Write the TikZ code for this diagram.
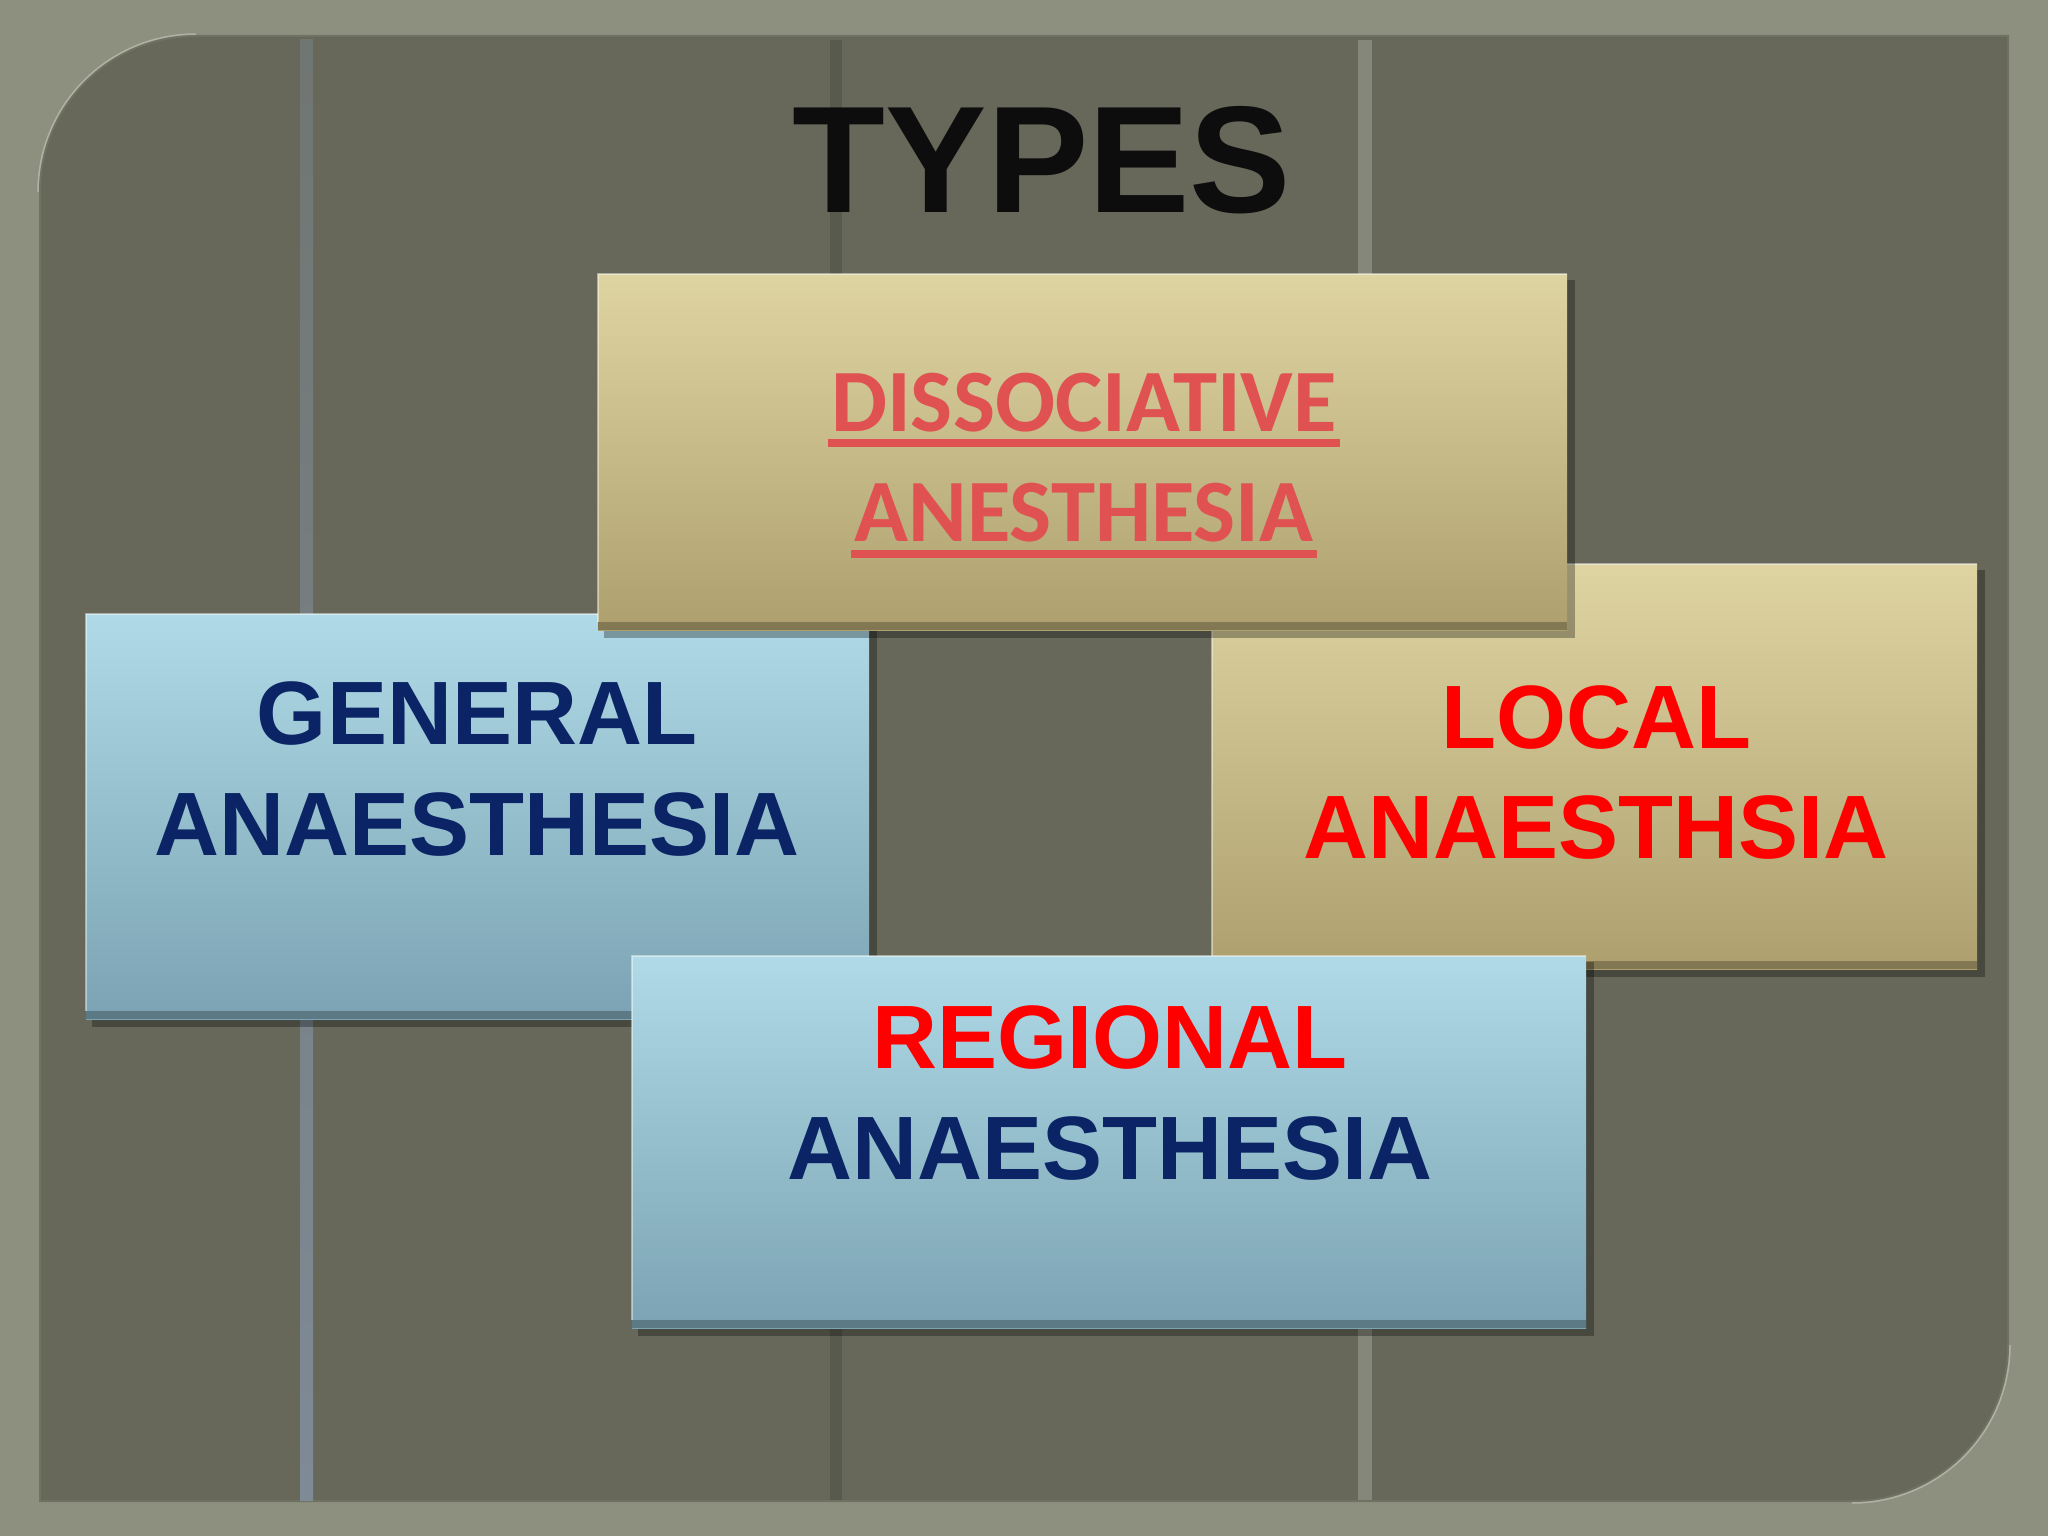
\documentclass[tikz,border=0pt]{standalone}
\usepackage{fontspec}
\setmainfont{Liberation Sans}
\newfontfamily\calib{Carlito}
\begin{document}
\begin{tikzpicture}[x=1pt,y=-1pt,
  lbl/.style={inner sep=0pt,anchor=base,font=\fontsize{90}{90}\selectfont\bfseries},
  dlbl/.style={inner sep=0pt,anchor=base,font=\calib\fontsize{89}{89}\selectfont\bfseries,text=dred},
  tanbox/.style={top color=tanT,bottom color=tanB},
  bluebox/.style={top color=bluT,bottom color=bluB},
  boxshadow/.style={fill=black,opacity=0.3},
  edgehi/.style={white,opacity=0.45,line width=1.5pt},
  uline/.style={fill=dred}]
\definecolor{outer}{HTML}{8D907E}
\definecolor{panel}{HTML}{67685A}
\definecolor{tanT}{HTML}{DED4A2}
\definecolor{tanB}{HTML}{ADA06E}
\definecolor{bluT}{HTML}{B0DAE7}
\definecolor{bluB}{HTML}{7BA3B3}
\definecolor{navy}{HTML}{0B2466}
\definecolor{dred}{HTML}{E05252}
\definecolor{stripeA}{HTML}{7E8A96}
\definecolor{stripeB}{HTML}{585A4D}
\definecolor{stripeC}{HTML}{86877B}
\useasboundingbox (0,0) rectangle (2048,1536);
\fill[outer] (0,0) rectangle (2048,1536);
% panel
\fill[black,opacity=0.2] (39,1502) -- (39,192) arc[start angle=180,end angle=270,radius=157] -- (2009,35) -- (2009,1345) arc[start angle=0,end angle=90,radius=157] -- cycle;
\fill[panel] (41,1500) -- (41,192) arc[start angle=180,end angle=270,radius=155] -- (2007,37) -- (2007,1345) arc[start angle=0,end angle=90,radius=155] -- cycle;
\draw[white,opacity=0.3,line width=1.5pt] (38,192) arc[start angle=180,end angle=270,radius=158];
\draw[white,opacity=0.3,line width=1.5pt] (2010,1345) arc[start angle=0,end angle=90,radius=158];
% stripes
\shade[top color=panel!60!stripeA,bottom color=stripeA] (300,40) rectangle (313,1500);
\fill[stripeB] (830,40) rectangle (842,1500);
\fill[stripeC] (1358,40) rectangle (1372,1500);
% title
\node[inner sep=0pt,anchor=base,font=\fontsize{152}{152}\selectfont\bfseries,text=black!95] (title) at (1042,212) {TYPES};
% general
\fill[boxshadow] (92,620) rectangle (877,1027);
\shade[bluebox] (86,614) rectangle (869,1019);
\fill[black,opacity=0.25] (86,1011) rectangle (869,1019);
\draw[edgehi] (86,1011) -- (86,614) -- (869,614);
\node[lbl,text=navy] (gen1) at (477,744) {GENERAL};
\node[lbl,text=navy] (gen2) at (477,855) {ANAESTHESIA};
% local
\fill[boxshadow] (1218,570) rectangle (1985,977);
\shade[tanbox] (1212,564) rectangle (1977,969);
\fill[black,opacity=0.25] (1212,961) rectangle (1977,969);
\draw[edgehi] (1212,961) -- (1212,564) -- (1977,564);
\node[lbl,text=red] (loc1) at (1596,748) {LOCAL};
\node[lbl,text=red] (loc2) at (1596,858) {ANAESTHSIA};
% dissociative
\fill[boxshadow] (604,280) rectangle (1575,638);
\shade[tanbox] (598,274) rectangle (1567,630);
\fill[black,opacity=0.25] (598,622) rectangle (1567,630);
\draw[edgehi] (598,622) -- (598,274) -- (1567,274);
\node[dlbl] (dis1) at (1084,431) {DISSOCIATIVE};
\node[dlbl] (dis2) at (1084,541) {ANESTHESIA};
\fill[uline] (dis1.base west)++(-3,8) rectangle ([xshift=3pt,yshift=-16pt]dis1.base east);
\fill[uline] (dis2.base west)++(-3,9) rectangle ([xshift=3pt,yshift=-17pt]dis2.base east);
% regional
\fill[boxshadow] (638,962) rectangle (1594,1336);
\shade[bluebox] (632,956) rectangle (1586,1328);
\fill[black,opacity=0.25] (632,1320) rectangle (1586,1328);
\draw[edgehi] (632,1320) -- (632,956) -- (1586,956);
\node[lbl,text=red] (reg1) at (1110,1068) {REGIONAL};
\node[lbl,text=navy] (reg2) at (1110,1179) {ANAESTHESIA};
\end{tikzpicture}
\end{document}
